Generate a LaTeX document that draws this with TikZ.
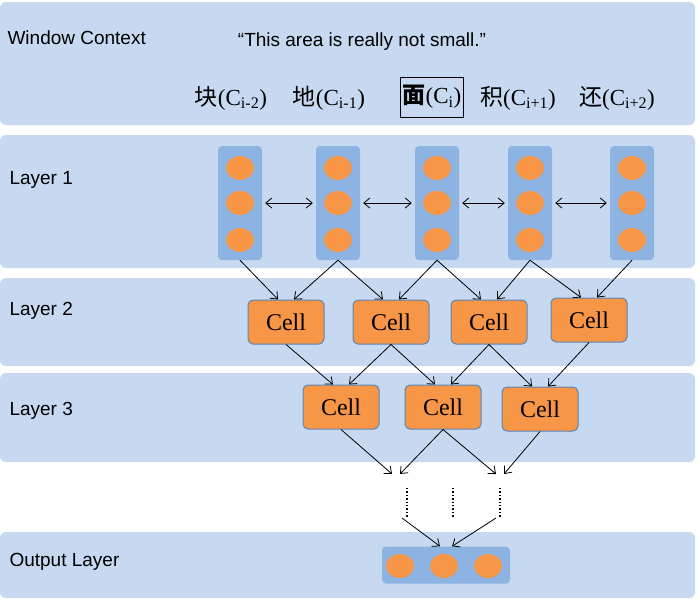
\documentclass[tikz,border=0pt]{standalone}
\usepackage{fontspec}
\setmainfont{Liberation Serif}
\newfontfamily\sans{Liberation Sans}
\newfontfamily\cjk{Noto Sans CJK SC}
\usetikzlibrary{positioning,shapes.geometric,arrows.meta}
\definecolor{bandblue}{HTML}{C6D9F1}
\definecolor{colblue}{HTML}{8DB3E2}
\definecolor{cellorange}{HTML}{F79646}
\definecolor{cellline}{HTML}{5B84B8}
\tikzset{
  band/.style={fill=bandblue,rounded corners=6pt,draw=none},
  column/.style={fill=colblue,rounded corners=4pt,minimum width=44pt,minimum height=114pt,inner sep=0pt},
  unit/.style={fill=cellorange,ellipse,minimum width=28pt,minimum height=24pt,inner sep=0pt},
  cell/.style={fill=cellorange,draw=cellline,line width=1pt,rounded corners=5pt,minimum width=76pt,minimum height=44pt,font=\fontsize{24}{24}\selectfont},
  lbl/.style={anchor=west,font=\sans\fontsize{19}{19}\selectfont},
  word/.style={font=\fontsize{23}{23}\selectfont,inner sep=2pt},
  link/.style={-{Straight Barb[length=6pt,width=10pt]},line width=0.8pt},
  dots/.style={dotted,line width=1.4pt}
}
\begin{document}
\begin{tikzpicture}[x=1pt,y=-1pt]
  \useasboundingbox (0,0) rectangle (700,603);
  % background bands
  \fill[band] (0,2) rectangle (695,125);
  \fill[band] (0,135) rectangle (695,268);
  \fill[band] (0,278) rectangle (695,366);
  \fill[band] (0,373) rectangle (695,462);
  \fill[band] (0,532) rectangle (695,598);
  \node(lw)[lbl] at (4,38) {Window Context};
  \node(l1)[lbl] at (6,180) {Layer 1};
  \node(l2)[lbl] at (6,311) {Layer 2};
  \node(l3)[lbl] at (6,411) {Layer 3};
  \node(lo)[lbl] at (6,562) {Output Layer};
  \node(quote)[font=\sans\fontsize{19}{19}\selectfont] at (362,42) {“This area is really not small.”};
  % words
  \node(w1)[word] at (231,98) {{\cjk 块}(C\textsubscript{i-2})};
  \node(w2)[word] at (329,98) {{\cjk 地}(C\textsubscript{i-1})};
  \node(w3)[word,draw,line width=0.8pt,minimum height=40pt] at (432,97) {{\cjk\bfseries 面}(C\textsubscript{i})};
  \node(w4)[word] at (518,98) {{\cjk 积}(C\textsubscript{i+1})};
  \node(w5)[word] at (617,98) {{\cjk 还}(C\textsubscript{i+2})};
  % layer 1
  \foreach \n/\x in {1/240,2/338,3/437,4/530,5/632}{
    \node(c\n)[column] at (\x,203) {};
    \node(c\n a)[unit] at (\x,168) {};
    \node(c\n b)[unit] at (\x,203) {};
    \node(c\n c)[unit] at (\x,240) {};
  }
  \foreach \a/\b in {1/2,2/3,3/4,4/5}
    \draw[{Straight Barb[length=6pt,width=10pt]}-{Straight Barb[length=6pt,width=10pt]},line width=0.8pt,shorten <=3pt,shorten >=3pt] (c\a) -- (c\b);
  % layer 2
  \node(p1)[cell] at (286,322) {Cell};
  \node(p2)[cell] at (391,322) {Cell};
  \node(p3)[cell] at (489,322) {Cell};
  \node(p4)[cell] at (589,320) {Cell};
  \foreach \a/\b in {1/1,2/2,3/3,4/4}
    \draw[link] (c\a.south) -- ([xshift=-8pt]p\b.north);
  \foreach \a/\b in {2/1,3/2,4/3,5/4}
    \draw[link] (c\a.south) -- ([xshift=8pt]p\b.north);
  % layer 3
  \node(q1)[cell] at (341,407) {Cell};
  \node(q2)[cell] at (443,407) {Cell};
  \node(q3)[cell] at (540,409) {Cell};
  \foreach \a/\b in {1/1,2/2,3/3}
    \draw[link] (p\a.south) -- ([xshift=-8pt]q\b.north);
  \foreach \a/\b in {2/1,3/2,4/3}
    \draw[link] (p\a.south) -- ([xshift=8pt]q\b.north);
  % dots
  \coordinate(t1a) at (392,474);
  \coordinate(t1b) at (400,474);
  \coordinate(t2a) at (496,474);
  \coordinate(t2b) at (504,474);
  \draw[link] (q1.south) -- (t1a);
  \draw[link] (q2.south) -- (t1b);
  \draw[link] (q2.south) -- (t2a);
  \draw[link] (q3.south) -- (t2b);
  \coordinate(d1) at (407,488); \coordinate(e1) at (407,517);
  \coordinate(d2) at (453,488); \coordinate(e2) at (453,517);
  \coordinate(d3) at (500,488); \coordinate(e3) at (500,517);
  \foreach \n in {1,2,3}
    \draw[dots] (d\n) -- (e\n);
  % output
  \node(out)[fill=colblue,rounded corners=4pt,minimum width=128pt,minimum height=37pt,inner sep=0pt] at (446,565) {};
  \foreach \n/\x in {1/400,2/444,3/488}
    \node(o\n)[unit] at (\x,566) {};
  \coordinate(f1) at (402,518);
  \coordinate(f2) at (496,518);
  \draw[link] (f1) -- ([xshift=-6pt]out.north);
  \draw[link] (f2) -- ([xshift=6pt]out.north);
\end{tikzpicture}
\end{document}
